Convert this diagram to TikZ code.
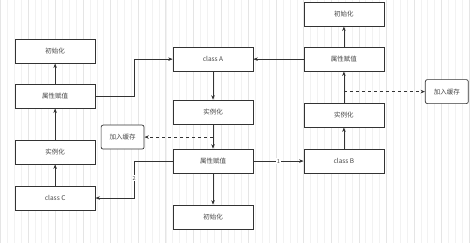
\documentclass[tikz,border=0pt]{standalone}
\usepackage{fontspec}
\setmainfont{Noto Sans CJK SC}
\usetikzlibrary{arrows.meta}

\definecolor{boxline}{HTML}{333333}
\definecolor{boxtext}{HTML}{444444}

\begin{document}
\begin{tikzpicture}[
  x=1pt,y=-1pt,
  block/.style={draw=boxline,fill=white,line width=0.7pt,minimum width=80pt,minimum height=24pt,
    inner sep=0pt,text=boxtext,font=\fontsize{6.5}{8}\selectfont},
  cache/.style={block,rounded corners=2pt,minimum width=43pt},
  flow/.style={-{Stealth[length=4.5pt,width=3.5pt]},boxline,line width=0.6pt},
  store/.style={flow,dashed},
  tag/.style={fill=white,inner sep=1pt,text=boxtext,font=\fontsize{5.5}{6}\selectfont}
]
  % background grid
  \fill[white] (0,0) rectangle (474,243);
  \draw[gray!10,line width=0.3pt,step=6.9] (0,0) grid (474,243);
  \draw[gray!20,line width=0.4pt,step=27.6] (0,0) grid (474,243);
  \useasboundingbox (0,0) rectangle (474,243);

  % left column
  \node[block] (init-c) at (55,51) {初始化};
  \node[block] (fill-c) at (55,96) {属性赋值};
  \node[block] (new-c) at (55,152) {实例化};
  \node[block] (class-c) at (55,198) {class C};

  % middle column
  \node[block] (class-a) at (213,59) {class A};
  \node[block] (new-a) at (213,112) {实例化};
  \node[block] (fill-a) at (213,161) {属性赋值};
  \node[block] (init-a) at (213,217) {初始化};

  % right column
  \node[block] (init-b) at (344,14) {初始化};
  \node[block] (fill-b) at (344,59) {属性赋值};
  \node[block] (new-b) at (344,115) {实例化};
  \node[block] (class-b) at (344,161) {class B};

  % caches
  \node[cache] (cache-a) at (122.5,137) {加入缓存};
  \node[cache] (cache-b) at (447,91.5) {加入缓存};

  \coordinate (tap-a) at (213,137);
  \coordinate (tap-b) at (344,91.5);

  % class A
  \draw[flow] (class-a) -- (new-a);
  \draw[flow] (new-a) -- (fill-a);
  \draw[flow] (fill-a) -- (init-a);
  \draw[store] (tap-a) -- (cache-a);
  \draw[flow] (fill-a) -- node[tag] {1} (class-b);
  \draw[flow] (fill-a.west) -| (134,178) node[tag] {2} |- (class-c.east);

  % class B
  \draw[flow] (class-b) -- (new-b);
  \draw[flow] (new-b) -- (fill-b);
  \draw[flow] (fill-b) -- (init-b);
  \draw[store] (tap-b) -- (cache-b);
  \draw[flow] (fill-b) -- (class-a);

  % class C
  \draw[flow] (class-c) -- (new-c);
  \draw[flow] (new-c) -- (fill-c);
  \draw[flow] (fill-c) -- (init-c);
  \draw[flow] (fill-c.east) -- (134,96) |- (class-a.west);
\end{tikzpicture}
\end{document}
